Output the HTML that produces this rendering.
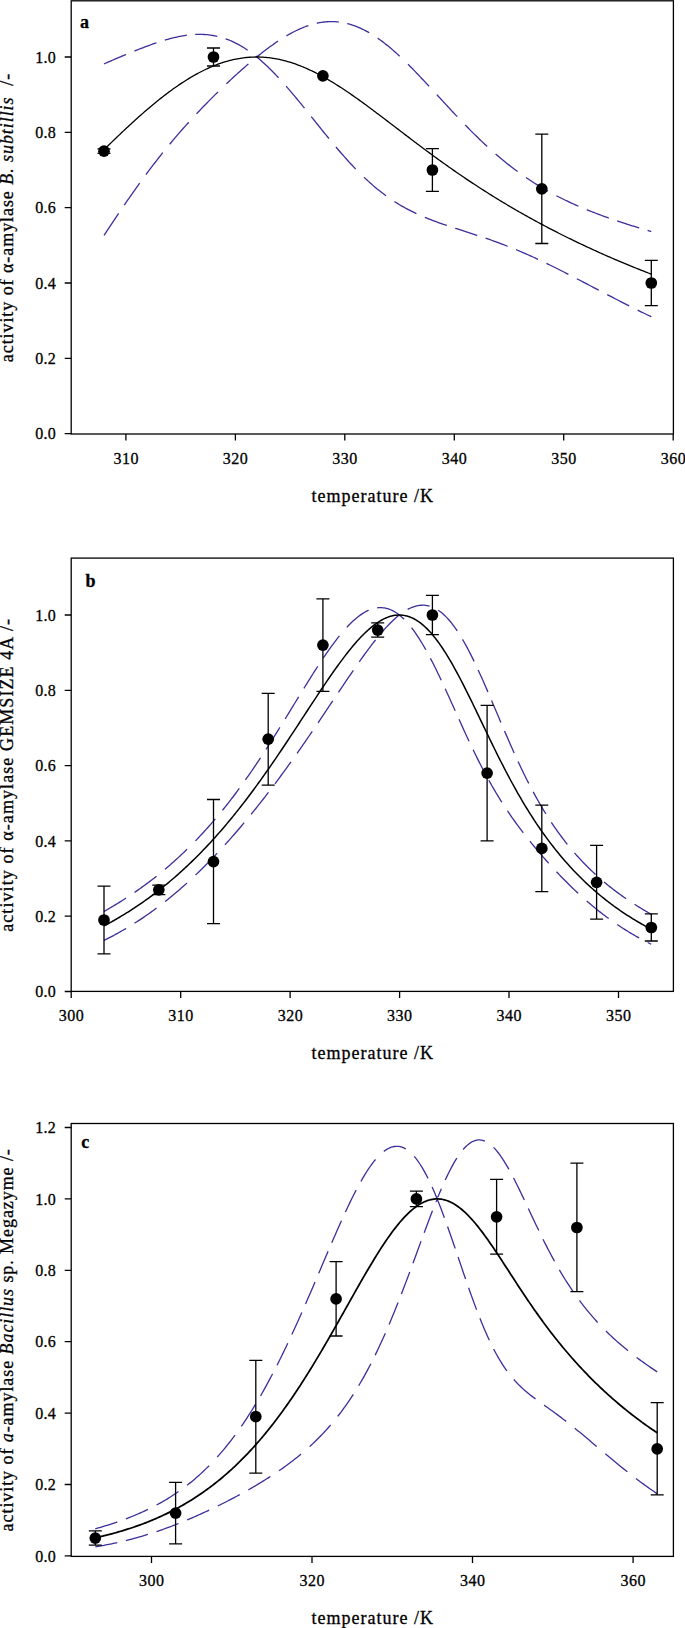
<!DOCTYPE html>
<html><head><meta charset="utf-8"><title>alpha-amylase activity vs temperature</title>
<style>
html,body{margin:0;padding:0;background:#fff}
svg{display:block}
text{font-family:"Liberation Serif",serif;fill:#000;stroke:#000;stroke-width:0.3px}
.tk{font-size:16px;letter-spacing:0.25px}
.lb{font-size:18px;letter-spacing:1px}
.lt{font-size:18px;font-weight:bold}
.ax{stroke:#000;stroke-width:1.3;fill:none}
.eb{stroke:#000;stroke-width:1.3;fill:none}
.bk{stroke:#000;stroke-width:1.35;fill:none}
.ds{stroke:#3b2f9b;stroke-width:1.3;fill:none}
.pt{fill:#000}
</style></head><body>
<svg width="685" height="1628" viewBox="0 0 685 1628">
<rect width="685" height="1628" fill="#fff"/>
<g>
<path class="ds" d="M104.03,63.92L105.48,63.28L106.98,62.62L108.48,61.97L109.98,61.31L111.48,60.66L112.98,60.01L114.48,59.37L115.98,58.72L117.48,58.08L118.98,57.45L120.48,56.81L121.98,56.18L123.48,55.55L124.98,54.92L126.03,54.48M134.44,51.05L135.93,50.45L137.43,49.86L138.93,49.27L140.43,48.68L141.93,48.10L143.43,47.53L144.93,46.96L146.43,46.39L147.93,45.84L149.43,45.29L150.93,44.75L152.43,44.21L153.93,43.69L155.43,43.17L156.44,42.83M164.83,40.15L166.33,39.71L167.83,39.29L169.33,38.87L170.83,38.47L172.33,38.09L173.83,37.72L175.33,37.36L176.83,37.02L178.33,36.70L179.83,36.40L181.33,36.11L182.83,35.85L184.33,35.60L185.83,35.37L186.83,35.23M195.23,34.45L196.73,34.39L198.23,34.36L199.73,34.35L201.23,34.36L202.73,34.41L204.23,34.48L205.73,34.58L207.23,34.70L208.73,34.86L210.23,35.05L211.73,35.27L213.23,35.51L214.73,35.79L216.23,36.10L217.23,36.33M225.63,38.78L227.13,39.32L228.63,39.90L230.13,40.52L231.63,41.17L233.13,41.85L234.63,42.56L236.13,43.31L237.63,44.10L239.13,44.92L240.63,45.77L242.13,46.65L243.63,47.57L245.13,48.53L246.63,49.51L247.63,50.19M256.03,56.44L257.53,56.34L259.03,55.13L260.53,53.94L262.03,52.76L263.53,51.59L265.03,50.44L266.53,49.31L268.03,48.18L269.53,47.08L271.03,45.99L272.53,44.92L274.03,43.86L275.53,42.82L277.03,41.80L278.03,41.13M286.43,35.86L287.93,34.99L289.43,34.14L290.93,33.32L292.43,32.52L293.93,31.74L295.43,30.98L296.93,30.26L298.43,29.56L299.93,28.88L301.43,28.23L302.93,27.61L304.43,27.02L305.93,26.45L307.43,25.92L308.43,25.58M316.83,23.25L318.33,22.94L319.83,22.66L321.33,22.41L322.83,22.20L324.33,22.01L325.83,21.87L327.33,21.76L328.83,21.68L330.33,21.63L331.83,21.62L333.33,21.65L334.83,21.71L336.33,21.81L337.83,21.94L338.83,22.04M347.24,23.57L348.73,23.96L350.23,24.39L351.73,24.85L353.23,25.34L354.73,25.87L356.23,26.44L357.73,27.04L359.23,27.67L360.73,28.34L362.23,29.04L363.73,29.78L365.23,30.55L366.73,31.35L368.23,32.19L369.23,32.76M377.63,38.12L379.13,39.18L380.63,40.26L382.13,41.38L383.63,42.52L385.13,43.68L386.63,44.87L388.13,46.09L389.63,47.33L391.13,48.59L392.63,49.88L394.13,51.19L395.63,52.52L397.13,53.88L398.63,55.25L399.63,56.18M408.03,64.27L409.53,65.76L411.03,67.28L412.53,68.80L414.03,70.34L415.53,71.88L417.03,73.44L418.53,75.01L420.03,76.59L421.53,78.18L423.03,79.77L424.53,81.37L426.03,82.98L427.53,84.59L429.03,86.21L429.08,86.26M436.82,94.66L438.28,96.25L439.78,97.88L441.28,99.52L442.78,101.15L444.28,102.77L445.78,104.40L447.28,106.02L448.78,107.64L450.28,109.26L451.78,110.87L453.28,112.47L454.78,114.07L456.28,115.66L457.23,116.66M465.28,125.06L466.73,126.55L468.23,128.08L469.73,129.60L471.23,131.11L472.73,132.61L474.23,134.09L475.73,135.57L477.23,137.04L478.73,138.49L480.23,139.93L481.73,141.36L483.23,142.78L484.73,144.18L486.23,145.57L487.19,146.45M495.59,153.96L497.08,155.25L498.58,156.53L500.08,157.80L501.58,159.06L503.08,160.30L504.58,161.53L506.08,162.74L507.58,163.94L509.08,165.12L510.58,166.30L512.08,167.45L513.58,168.60L515.08,169.73L516.58,170.84L517.59,171.58M525.99,177.52L527.48,178.54L528.98,179.54L530.48,180.53L531.98,181.51L533.48,182.48L534.98,183.43L536.48,184.37L537.98,185.29L539.48,186.21L540.98,187.11L542.48,188.00L543.98,188.88L545.48,189.75L546.98,190.60L547.99,191.17M556.39,195.71L557.88,196.48L559.38,197.25L560.88,198.01L562.38,198.75L563.88,199.49L565.38,200.22L566.88,200.94L568.38,201.65L569.88,202.35L571.38,203.04L572.88,203.73L574.38,204.40L575.88,205.07L577.38,205.73L578.39,206.17M586.79,209.70L588.28,210.31L589.78,210.91L591.28,211.50L592.78,212.09L594.28,212.68L595.78,213.25L597.28,213.82L598.78,214.39L600.28,214.95L601.78,215.50L603.28,216.05L604.78,216.60L606.28,217.14L607.78,217.67L608.79,218.03M617.19,220.92L618.68,221.42L620.18,221.92L621.68,222.41L623.18,222.90L624.68,223.39L626.18,223.87L627.68,224.35L629.18,224.83L630.68,225.30L632.18,225.77L633.68,226.24L635.18,226.71L636.68,227.17L638.18,227.62L639.19,227.93M647.59,230.43L649.08,230.87L650.58,231.30L651.28,231.50"/>
<path class="ds" d="M104.03,235.44L105.48,233.23L106.98,230.95L108.48,228.67L109.98,226.40L111.48,224.14L112.98,221.88L114.48,219.63L115.98,217.38L117.48,215.15L118.63,213.44M124.33,205.04L125.78,202.92L127.28,200.74L128.78,198.58L130.28,196.42L131.78,194.27L133.28,192.14L134.78,190.01L136.28,187.90L137.78,185.80L139.28,183.71L139.77,183.04M145.91,174.64L147.38,172.65L148.88,170.65L150.38,168.65L151.88,166.67L153.38,164.71L154.88,162.76L156.38,160.82L157.88,158.89L159.38,156.98L160.88,155.08L162.38,153.20L162.83,152.64M169.68,144.24L171.13,142.49L172.63,140.69L174.13,138.92L175.63,137.15L177.13,135.40L178.63,133.66L180.13,131.93L181.63,130.22L183.13,128.51L184.63,126.82L186.13,125.14L187.63,123.48L188.75,122.24M196.51,113.84L197.98,112.27L199.48,110.69L200.98,109.12L202.48,107.55L203.98,106.00L205.48,104.45L206.98,102.92L208.48,101.39L209.98,99.88L211.48,98.37L212.98,96.87L214.48,95.38L215.98,93.90L217.48,92.42L218.01,91.91M226.41,83.82L227.88,82.43L229.38,81.02L230.88,79.62L232.38,78.23L233.88,76.85L235.38,75.48L236.88,74.11L238.38,72.76L239.88,71.41L241.38,70.08L242.88,68.75L244.38,67.43L245.88,66.12L247.38,64.83L248.41,63.94M256.81,57.07L258.28,58.29L259.78,59.56L261.28,60.85L262.78,62.18L264.28,63.54L265.78,64.92L267.28,66.33L268.78,67.77L270.28,69.24L271.78,70.73L273.28,72.25L274.78,73.79L276.28,75.36L277.78,76.95L278.54,77.76M286.12,86.16L287.58,87.84L289.08,89.58L290.58,91.33L292.08,93.10L293.58,94.88L295.08,96.67L296.58,98.48L298.08,100.30L299.58,102.13L301.08,103.96L302.58,105.81L304.08,107.66L304.49,108.16M311.23,116.56L312.68,118.38L314.18,120.25L315.68,122.13L317.18,124.00L318.68,125.88L320.18,127.75L321.68,129.61L323.18,131.47L324.68,133.32L326.18,135.17L327.68,137.01L328.95,138.56M335.94,146.96L337.43,148.72L338.93,150.48L340.43,152.22L341.93,153.95L343.43,155.66L344.93,157.35L346.43,159.03L347.93,160.69L349.43,162.33L350.93,163.95L352.43,165.55L353.93,167.14L355.43,168.70L355.69,168.96M364.03,177.25L365.48,178.62L366.98,180.02L368.48,181.39L369.98,182.74L371.48,184.07L372.98,185.37L374.48,186.65L375.98,187.91L377.48,189.15L378.98,190.36L380.48,191.55L381.98,192.71L383.48,193.85L384.98,194.97L386.03,195.74M394.43,201.50L395.88,202.43L397.38,203.37L398.88,204.29L400.38,205.19L401.88,206.07L403.38,206.92L404.88,207.76L406.38,208.58L407.88,209.39L409.38,210.17L410.88,210.94L412.38,211.69L413.88,212.42L415.38,213.14L416.43,213.63M424.83,217.34L426.28,217.94L427.78,218.55L429.28,219.15L430.78,219.73L432.28,220.31L433.78,220.88L435.28,221.43L436.78,221.98L438.28,222.53L439.78,223.06L441.28,223.59L442.78,224.11L444.28,224.63L445.78,225.14L446.83,225.49M455.23,228.26L456.68,228.73L458.18,229.21L459.68,229.69L461.18,230.18L462.68,230.66L464.18,231.14L465.68,231.62L467.18,232.10L468.68,232.58L470.18,233.07L471.68,233.55L473.18,234.04L474.68,234.53L476.18,235.02L477.23,235.36M485.63,238.18L487.08,238.69L488.58,239.21L490.08,239.73L491.58,240.26L493.08,240.79L494.58,241.33L496.08,241.88L497.58,242.43L499.08,242.98L500.58,243.54L502.08,244.11L503.58,244.68L505.08,245.25L506.58,245.83L507.63,246.24M516.03,249.63L517.48,250.24L518.98,250.86L520.48,251.50L521.98,252.14L523.48,252.79L524.98,253.44L526.48,254.10L527.98,254.76L529.48,255.43L530.98,256.10L532.48,256.78L533.98,257.47L535.48,258.16L536.98,258.85L538.03,259.34M546.43,263.34L547.88,264.04L549.38,264.78L550.88,265.51L552.38,266.25L553.88,266.99L555.38,267.74L556.88,268.49L558.38,269.24L559.88,270.00L561.38,270.76L562.88,271.52L564.38,272.29L565.88,273.05L567.38,273.82L568.43,274.36M576.83,278.71L578.28,279.47L579.78,280.25L581.28,281.03L582.78,281.82L584.28,282.60L585.78,283.39L587.28,284.17L588.78,284.96L590.28,285.75L591.78,286.53L593.28,287.32L594.78,288.11L596.28,288.89L597.78,289.68L598.83,290.22M607.23,294.61L608.68,295.37L610.18,296.15L611.68,296.92L613.18,297.70L614.68,298.47L616.18,299.25L617.68,300.02L619.18,300.79L620.68,301.56L622.18,302.32L623.68,303.09L625.18,303.85L626.68,304.61L628.18,305.37L629.23,305.90M637.63,310.10L639.08,310.82L640.58,311.56L642.08,312.30L643.58,313.03L645.08,313.77L646.58,314.50L648.08,315.23L649.58,315.95L651.08,316.67L651.28,316.77"/>
<path class="bk" style="stroke-width:1.3" d="M104.03,149.68L105.53,148.21L107.03,146.74L108.53,145.27L110.03,143.81L111.53,142.35L113.03,140.90L114.53,139.45L116.03,138.01L117.53,136.57L119.03,135.14L120.53,133.71L122.03,132.29L123.53,130.88L125.03,129.47L126.52,128.06L128.02,126.67L129.52,125.28L131.02,123.90L132.52,122.52L134.02,121.16L135.52,119.80L137.02,118.45L138.52,117.10L140.02,115.77L141.52,114.44L143.02,113.13L144.52,111.82L146.02,110.52L147.52,109.24L149.01,107.96L150.51,106.69L152.01,105.43L153.51,104.19L155.01,102.95L156.51,101.73L158.01,100.52L159.51,99.32L161.01,98.13L162.51,96.95L164.01,95.79L165.51,94.64L167.01,93.50L168.51,92.38L170.00,91.27L171.50,90.17L173.00,89.09L174.50,88.02L176.00,86.96L177.50,85.93L179.00,84.90L180.50,83.89L182.00,82.90L183.50,81.92L185.00,80.96L186.50,80.01L188.00,79.08L189.50,78.17L191.00,77.27L192.49,76.39L193.99,75.53L195.49,74.68L196.99,73.85L198.49,73.04L199.99,72.25L201.49,71.48L202.99,70.72L204.49,69.99L205.99,69.27L207.49,68.57L208.99,67.89L210.49,67.23L211.99,66.59L213.48,65.96L214.98,65.36L216.48,64.78L217.98,64.22L219.48,63.68L220.98,63.16L222.48,62.65L223.98,62.17L225.48,61.71L226.98,61.28L228.48,60.86L229.98,60.46L231.48,60.09L232.98,59.73L234.48,59.40L235.97,59.09L237.47,58.80L238.97,58.53L240.47,58.28L241.97,58.06L243.47,57.85L244.97,57.67L246.47,57.51L247.97,57.37L249.47,57.26L250.97,57.16L252.47,57.09L253.97,57.04L255.47,57.01L256.97,57.00L258.46,57.01L259.96,57.05L261.46,57.11L262.96,57.19L264.46,57.29L265.96,57.41L267.46,57.56L268.96,57.72L270.46,57.91L271.96,58.12L273.46,58.35L274.96,58.60L276.46,58.87L277.96,59.16L279.45,59.47L280.95,59.80L282.45,60.16L283.95,60.53L285.45,60.92L286.95,61.34L288.45,61.77L289.95,62.22L291.45,62.69L292.95,63.18L294.45,63.69L295.95,64.22L297.45,64.77L298.95,65.33L300.45,65.92L301.94,66.52L303.44,67.14L304.94,67.77L306.44,68.43L307.94,69.10L309.44,69.79L310.94,70.49L312.44,71.21L313.94,71.94L315.44,72.69L316.94,73.46L318.44,74.24L319.94,75.04L321.44,75.85L322.93,76.67L324.43,77.51L325.93,78.36L327.43,79.23L328.93,80.10L330.43,80.99L331.93,81.90L333.43,82.81L334.93,83.74L336.43,84.68L337.93,85.62L339.43,86.58L340.93,87.55L342.43,88.53L343.93,89.52L345.42,90.52L346.92,91.53L348.42,92.55L349.92,93.58L351.42,94.61L352.92,95.65L354.42,96.70L355.92,97.76L357.42,98.82L358.92,99.89L360.42,100.97L361.92,102.05L363.42,103.14L364.92,104.24L366.42,105.33L367.91,106.44L369.41,107.55L370.91,108.66L372.41,109.78L373.91,110.90L375.41,112.02L376.91,113.15L378.41,114.28L379.91,115.41L381.41,116.55L382.91,117.69L384.41,118.83L385.91,119.97L387.41,121.11L388.90,122.26L390.40,123.40L391.90,124.55L393.40,125.69L394.90,126.84L396.40,127.99L397.90,129.13L399.40,130.28L400.90,131.42L402.40,132.57L403.90,133.71L405.40,134.86L406.90,136.00L408.40,137.14L409.90,138.28L411.39,139.42L412.89,140.55L414.39,141.69L415.89,142.82L417.39,143.95L418.89,145.08L420.39,146.20L421.89,147.32L423.39,148.44L424.89,149.56L426.39,150.67L427.89,151.78L429.39,152.89L430.89,153.99L432.38,155.09L433.88,156.19L435.38,157.28L436.88,158.37L438.38,159.46L439.88,160.54L441.38,161.62L442.88,162.70L444.38,163.77L445.88,164.84L447.38,165.90L448.88,166.96L450.38,168.01L451.88,169.06L453.38,170.11L454.87,171.15L456.37,172.19L457.87,173.23L459.37,174.26L460.87,175.28L462.37,176.31L463.87,177.32L465.37,178.34L466.87,179.35L468.37,180.35L469.87,181.35L471.37,182.35L472.87,183.34L474.37,184.32L475.87,185.31L477.36,186.28L478.86,187.26L480.36,188.23L481.86,189.19L483.36,190.15L484.86,191.11L486.36,192.06L487.86,193.01L489.36,193.95L490.86,194.89L492.36,195.83L493.86,196.76L495.36,197.68L496.86,198.61L498.35,199.52L499.85,200.44L501.35,201.35L502.85,202.25L504.35,203.15L505.85,204.05L507.35,204.94L508.85,205.83L510.35,206.72L511.85,207.60L513.35,208.47L514.85,209.35L516.35,210.21L517.85,211.08L519.35,211.94L520.84,212.79L522.34,213.65L523.84,214.50L525.34,215.34L526.84,216.18L528.34,217.02L529.84,217.85L531.34,218.68L532.84,219.50L534.34,220.32L535.84,221.14L537.34,221.96L538.84,222.77L540.34,223.57L541.83,224.37L543.33,225.17L544.83,225.97L546.33,226.76L547.83,227.55L549.33,228.33L550.83,229.11L552.33,229.89L553.83,230.66L555.33,231.43L556.83,232.20L558.33,232.96L559.83,233.72L561.33,234.48L562.83,235.23L564.32,235.98L565.82,236.73L567.32,237.47L568.82,238.21L570.32,238.94L571.82,239.68L573.32,240.41L574.82,241.13L576.32,241.85L577.82,242.57L579.32,243.29L580.82,244.00L582.32,244.71L583.82,245.42L585.32,246.12L586.81,246.82L588.31,247.52L589.81,248.21L591.31,248.90L592.81,249.59L594.31,250.27L595.81,250.95L597.31,251.63L598.81,252.31L600.31,252.98L601.81,253.65L603.31,254.31L604.81,254.98L606.31,255.64L607.80,256.29L609.30,256.95L610.80,257.60L612.30,258.25L613.80,258.89L615.30,259.54L616.80,260.18L618.30,260.81L619.80,261.45L621.30,262.08L622.80,262.71L624.30,263.33L625.80,263.96L627.30,264.58L628.80,265.19L630.29,265.81L631.79,266.42L633.29,267.03L634.79,267.64L636.29,268.24L637.79,268.84L639.29,269.44L640.79,270.04L642.29,270.63L643.79,271.22L645.29,271.81L646.79,272.39L648.29,272.98L649.79,273.56L651.28,274.14"/>
<path class="eb" d="M104.0,148.9V153.4M97.5,148.9h13M97.5,153.4h13M213.5,48.0V66.0M207.0,48.0h13M207.0,66.0h13M432.4,148.7V191.3M425.9,148.7h13M425.9,191.3h13M541.8,134.2V243.5M535.3,134.2h13M535.3,243.5h13M651.3,260.4V305.6M644.8,260.4h13M644.8,305.6h13"/>
<circle class="pt" cx="104.0" cy="151.2" r="5.85"/>
<circle class="pt" cx="213.5" cy="57.0" r="5.85"/>
<circle class="pt" cx="322.9" cy="75.8" r="5.85"/>
<circle class="pt" cx="432.4" cy="170.0" r="5.85"/>
<circle class="pt" cx="541.8" cy="188.8" r="5.85"/>
<circle class="pt" cx="651.3" cy="283.0" r="5.85"/>
<rect class="ax" x="71.2" y="0.8" width="602.2" height="433.2"/>
<path class="ax" d="M125.9,434.0v6.5M235.4,434.0v6.5M344.8,434.0v6.5M454.3,434.0v6.5M563.7,434.0v6.5M673.2,434.0v6.5M71.2,433.7h-6.5M71.2,358.4h-6.5M71.2,283.0h-6.5M71.2,207.7h-6.5M71.2,132.3h-6.5M71.2,57.0h-6.5"/>
<text class="tk" style="letter-spacing:0.5px" x="126.2" y="463.6" text-anchor="middle">310</text>
<text class="tk" style="letter-spacing:0.5px" x="235.6" y="463.6" text-anchor="middle">320</text>
<text class="tk" style="letter-spacing:0.5px" x="345.1" y="463.6" text-anchor="middle">330</text>
<text class="tk" style="letter-spacing:0.5px" x="454.5" y="463.6" text-anchor="middle">340</text>
<text class="tk" style="letter-spacing:0.5px" x="564.0" y="463.6" text-anchor="middle">350</text>
<text class="tk" style="letter-spacing:0.5px" x="673.4" y="463.6" text-anchor="middle">360</text>
<text class="tk" x="56.1" y="439.4" text-anchor="end">0.0</text>
<text class="tk" x="56.1" y="364.1" text-anchor="end">0.2</text>
<text class="tk" x="56.1" y="288.7" text-anchor="end">0.4</text>
<text class="tk" x="56.1" y="213.4" text-anchor="end">0.6</text>
<text class="tk" x="56.1" y="138.0" text-anchor="end">0.8</text>
<text class="tk" x="56.1" y="62.7" text-anchor="end">1.0</text>
<text class="lb" x="372.8" y="501.5" text-anchor="middle">temperature /K</text>
<text class="lt" x="80.1" y="27.6">a</text>
<text class="lb" style="letter-spacing:0.935px" transform="translate(13.3,217.5) rotate(-90)" text-anchor="middle" xml:space="preserve">activity of α-amylase <tspan font-style="italic">B. subtillis</tspan>  /-</text>
</g>
<g>
<path class="ds" d="M104.03,911.41L105.48,910.59L106.98,909.73L108.48,908.87L109.98,908.00L111.48,907.11L112.98,906.22L114.48,905.33L115.98,904.42L117.48,903.50L118.98,902.58L120.48,901.64L121.98,900.70L123.48,899.74L124.98,898.78L126.03,898.10M134.53,892.43L136.03,891.39L137.53,890.35L139.03,889.29L140.53,888.23L142.03,887.15L143.53,886.06L145.03,884.97L146.53,883.86L148.03,882.74L149.53,881.61L151.03,880.46L152.53,879.31L154.03,878.14L155.53,876.97L156.53,876.18M165.03,869.23L166.53,867.97L168.03,866.69L169.53,865.39L171.03,864.09L172.53,862.77L174.03,861.44L175.53,860.09L177.03,858.73L178.53,857.36L180.03,855.97L181.53,854.57L183.03,853.15L184.53,851.72L186.03,850.28L187.03,849.31M195.46,840.85L196.93,839.33L198.43,837.75L199.93,836.17L201.43,834.56L202.93,832.94L204.43,831.31L205.93,829.66L207.43,827.99L208.93,826.30L210.43,824.60L211.93,822.88L213.43,821.14L214.93,819.39L215.39,818.85M222.44,810.35L223.93,808.50L225.43,806.62L226.93,804.73L228.43,802.82L229.93,800.89L231.43,798.94L232.93,796.98L234.43,795.00L235.93,793.00L237.43,790.98L238.93,788.95L239.37,788.35M245.49,779.85L246.98,777.73L248.48,775.59L249.98,773.43L251.48,771.25L252.98,769.06L254.48,766.86L255.98,764.63L257.48,762.40L258.98,760.14L260.48,757.88L260.50,757.85M266.04,749.35L267.53,747.04L269.03,744.69L270.53,742.34L272.03,739.97L273.53,737.60L275.03,735.21L276.53,732.82L278.03,730.41L279.53,728.00L279.93,727.35M285.18,718.85L286.63,716.49L288.13,714.04L289.63,711.59L291.13,709.14L292.63,706.69L294.13,704.23L295.63,701.78L297.13,699.33L298.63,696.88L298.65,696.85M303.88,688.35L305.33,686.00L306.83,683.58L308.33,681.17L309.83,678.78L311.33,676.39L312.83,674.02L314.33,671.67L315.83,669.33L317.33,667.01L317.76,666.35M323.39,657.85L324.88,655.65L326.38,653.47L327.88,651.31L329.38,649.19L330.88,647.10L332.38,645.04L333.88,643.02L335.38,641.03L336.88,639.09L338.38,637.18L339.45,635.85M346.77,627.35L348.23,625.80L349.73,624.25L351.23,622.77L352.73,621.34L354.23,619.98L355.73,618.67L357.23,617.43L358.73,616.26L360.23,615.15L361.73,614.11L363.23,613.14L364.73,612.24L366.23,611.42L367.73,610.68L368.63,610.27M377.13,607.84L378.58,607.69L380.08,607.63L381.58,607.66L383.08,607.78L384.58,607.98L386.08,608.28L387.58,608.68L389.08,609.16L390.58,609.74L392.08,610.42L393.58,611.19L395.08,612.05L396.58,613.01L398.08,614.07L399.13,614.86M407.63,609.44L409.08,608.68L410.58,607.97L412.08,607.34L413.58,606.78L415.08,606.31L416.58,605.91L418.08,605.60L419.58,605.37L421.08,605.23L422.58,605.18L424.08,605.22L425.58,605.35L427.08,605.57L428.58,605.89L429.63,606.17M438.13,610.18L439.58,611.19L441.08,612.33L442.58,613.57L444.08,614.91L445.58,616.35L447.08,617.89L448.58,619.54L450.08,621.28L451.58,623.12L453.08,625.05L454.58,627.08L456.08,629.21L457.23,630.90M462.54,639.40L464.03,641.98L465.53,644.65L467.03,647.40L468.53,650.23L470.03,653.13L471.53,656.09L473.03,659.13L474.14,661.40M478.15,669.90L479.63,673.15L481.13,676.47L482.63,679.83L484.13,683.23L485.63,686.66L487.13,690.12L487.90,691.90M491.54,700.40L493.03,703.92L494.53,707.46L496.03,711.01L497.53,714.55L499.03,718.10L500.53,721.64L500.86,722.40M504.49,730.90L505.98,734.38L507.48,737.85L508.98,741.29L510.48,744.71L511.98,748.09L513.48,751.45L514.14,752.90M518.03,761.40L519.48,764.52L520.98,767.69L522.48,770.82L523.98,773.91L525.48,776.95L526.98,779.95L528.48,782.91L528.74,783.40M533.20,791.90L534.68,794.64L536.18,797.37L537.68,800.04L539.18,802.67L540.68,805.26L542.18,807.80L543.68,810.30L545.18,812.75L545.89,813.90M551.35,822.40L552.83,824.61L554.33,826.81L555.83,828.97L557.33,831.10L558.83,833.18L560.33,835.23L561.83,837.25L563.33,839.22L564.83,841.17L566.33,843.07L567.39,844.40M574.50,852.90L575.98,854.59L577.48,856.27L578.98,857.93L580.48,859.55L581.98,861.15L583.48,862.72L584.98,864.27L586.48,865.79L587.98,867.29L589.48,868.76L590.98,870.21L592.48,871.64L593.98,873.05L595.48,874.43L595.59,874.53M604.09,881.99L605.58,883.23L607.08,884.47L608.58,885.68L610.08,886.88L611.58,888.07L613.08,889.23L614.58,890.38L616.08,891.51L617.58,892.63L619.08,893.74L620.58,894.82L622.08,895.90L623.58,896.96L625.08,898.00L626.09,898.70M634.59,904.31L636.08,905.26L637.58,906.20L639.08,907.12L640.58,908.04L642.08,908.94L643.58,909.83L645.08,910.71L646.58,911.58L648.08,912.44L649.58,913.29L651.08,914.12L651.28,914.23"/>
<path class="ds" d="M104.03,940.41L105.48,939.68L106.98,938.93L108.48,938.16L109.98,937.38L111.48,936.59L112.98,935.80L114.48,934.99L115.98,934.18L117.48,933.35L118.98,932.52L120.48,931.67L121.98,930.81L123.48,929.95L124.98,929.07L126.03,928.45M134.53,923.24L136.03,922.29L137.53,921.32L139.03,920.34L140.53,919.36L142.03,918.36L143.53,917.35L145.03,916.33L146.53,915.29L148.03,914.25L149.53,913.19L151.03,912.13L152.53,911.05L154.03,909.96L155.53,908.85L156.53,908.11M165.03,901.60L166.53,900.41L168.03,899.21L169.53,898.00L171.03,896.77L172.53,895.54L174.03,894.29L175.53,893.03L177.03,891.75L178.53,890.47L180.03,889.17L181.53,887.86L183.03,886.54L184.53,885.21L186.03,883.86L187.03,882.96M195.53,875.06L197.03,873.63L198.53,872.18L200.03,870.73L201.53,869.26L203.03,867.78L204.53,866.28L206.03,864.78L207.53,863.26L209.03,861.73L210.53,860.19L212.03,858.64L213.53,857.08L215.03,855.51L216.53,853.92L217.14,853.28M224.98,844.78L226.43,843.17L227.93,841.50L229.43,839.82L230.93,838.13L232.43,836.42L233.93,834.71L235.43,832.98L236.93,831.25L238.43,829.50L239.93,827.74L241.43,825.98L242.93,824.20L244.12,822.78M251.14,814.28L252.63,812.44L254.13,810.59L255.63,808.72L257.13,806.84L258.63,804.96L260.13,803.06L261.63,801.15L263.13,799.24L264.63,797.31L266.13,795.37L267.63,793.43L268.51,792.28M274.96,783.78L276.43,781.81L277.93,779.79L279.43,777.77L280.93,775.74L282.43,773.70L283.93,771.65L285.43,769.59L286.93,767.52L288.43,765.44L289.93,763.35L291.06,761.78M297.09,753.28L298.58,751.15L300.08,749.01L301.58,746.86L303.08,744.70L304.58,742.53L306.08,740.36L307.58,738.18L309.08,736.00L310.58,733.80L312.08,731.60L312.30,731.28M318.07,722.78L319.53,720.60L321.03,718.38L322.53,716.14L324.03,713.91L325.53,711.67L327.03,709.43L328.53,707.19L330.03,704.94L331.53,702.70L332.81,700.78M338.49,692.28L339.98,690.05L341.48,687.82L342.98,685.58L344.48,683.36L345.98,681.13L347.48,678.92L348.98,676.71L350.48,674.51L351.98,672.31L353.38,670.28M359.30,661.78L360.78,659.68L362.28,657.58L363.78,655.50L365.28,653.43L366.78,651.38L368.28,649.36L369.78,647.36L371.28,645.38L372.78,643.43L374.28,641.50L375.65,639.78M382.71,631.28L384.18,629.61L385.68,627.94L387.18,626.32L388.68,624.75L390.18,623.22L391.68,621.73L393.18,620.30L394.68,618.92L396.18,617.59L397.68,616.32L399.18,615.10L400.68,616.12L402.18,617.43L403.68,618.84L404.12,619.26M411.58,627.76L413.03,629.68L414.53,631.74L416.03,633.88L417.53,636.10L419.03,638.41L420.53,640.79L422.03,643.25L423.53,645.78L425.03,648.39L425.81,649.76M430.41,658.26L431.88,661.10L433.38,664.04L434.88,667.04L436.38,670.08L437.88,673.17L439.38,676.30L440.88,679.46L441.26,680.26M445.21,688.76L446.68,691.99L448.18,695.28L449.68,698.59L451.18,701.91L452.68,705.24L454.18,708.58L455.17,710.76M458.99,719.26L460.48,722.56L461.98,725.86L463.48,729.15L464.98,732.43L466.48,735.68L467.98,738.90L469.09,741.26M473.13,749.76L474.58,752.76L476.08,755.83L477.58,758.85L479.08,761.84L480.58,764.79L482.08,767.70L483.58,770.57L484.21,771.76M488.81,780.26L490.28,782.89L491.78,785.54L493.28,788.14L494.78,790.70L496.28,793.23L497.78,795.71L499.28,798.15L500.78,800.56L501.86,802.26M507.41,810.76L508.88,812.94L510.38,815.12L511.88,817.28L513.38,819.40L514.88,821.50L516.38,823.57L517.88,825.62L519.38,827.64L520.88,829.64L522.38,831.61L523.26,832.76M529.96,841.26L531.43,843.09L532.93,844.92L534.43,846.74L535.93,848.55L537.43,850.33L538.93,852.10L540.43,853.86L541.93,855.60L543.43,857.33L544.93,859.04L546.43,860.73L547.93,862.42L548.69,863.26M556.51,871.76L557.98,873.32L559.48,874.90L560.98,876.46L562.48,878.01L563.98,879.54L565.48,881.05L566.98,882.56L568.48,884.05L569.98,885.52L571.48,886.98L572.98,888.43L574.48,889.86L575.98,891.28L577.48,892.68L578.19,893.33M586.69,900.97L588.18,902.26L589.68,903.55L591.18,904.82L592.68,906.07L594.18,907.31L595.68,908.54L597.18,909.75L598.68,910.94L600.18,912.12L601.68,913.29L603.18,914.44L604.68,915.58L606.18,916.70L607.68,917.81L608.69,918.54M617.19,924.51L618.68,925.52L620.18,926.51L621.68,927.49L623.18,928.46L624.68,929.41L626.18,930.35L627.68,931.28L629.18,932.20L630.68,933.10L632.18,933.99L633.68,934.87L635.18,935.73L636.68,936.58L638.18,937.42L639.19,937.98M647.69,942.48L649.18,943.23L650.68,943.98L651.28,944.27"/>
<path class="bk" style="stroke-width:1.5" d="M104.03,925.91L105.53,925.11L107.03,924.30L108.53,923.49L110.03,922.66L111.53,921.83L113.03,920.99L114.53,920.13L116.03,919.27L117.53,918.40L119.03,917.52L120.53,916.63L122.03,915.73L123.53,914.82L125.03,913.90L126.52,912.97L128.02,912.03L129.52,911.08L131.02,910.12L132.52,909.15L134.02,908.17L135.52,907.18L137.02,906.18L138.52,905.17L140.02,904.15L141.52,903.11L143.02,902.07L144.52,901.01L146.02,899.95L147.52,898.87L149.01,897.78L150.51,896.68L152.01,895.57L153.51,894.44L155.01,893.31L156.51,892.16L158.01,891.00L159.51,889.83L161.01,888.65L162.51,887.46L164.01,886.25L165.51,885.03L167.01,883.80L168.51,882.56L170.00,881.30L171.50,880.03L173.00,878.75L174.50,877.46L176.00,876.15L177.50,874.83L179.00,873.50L180.50,872.15L182.00,870.79L183.50,869.42L185.00,868.04L186.50,866.64L188.00,865.23L189.50,863.80L191.00,862.36L192.49,860.91L193.99,859.44L195.49,857.96L196.99,856.47L198.49,854.96L199.99,853.44L201.49,851.90L202.99,850.35L204.49,848.79L205.99,847.21L207.49,845.62L208.99,844.01L210.49,842.39L211.99,840.76L213.48,839.11L214.98,837.45L216.48,835.77L217.98,834.08L219.48,832.37L220.98,830.65L222.48,828.91L223.98,827.16L225.48,825.40L226.98,823.62L228.48,821.83L229.98,820.02L231.48,818.20L232.98,816.37L234.48,814.52L235.97,812.65L237.47,810.77L238.97,808.88L240.47,806.98L241.97,805.06L243.47,803.12L244.97,801.18L246.47,799.21L247.97,797.24L249.47,795.25L250.97,793.25L252.47,791.24L253.97,789.21L255.47,787.17L256.97,785.12L258.46,783.05L259.96,780.97L261.46,778.88L262.96,776.78L264.46,774.66L265.96,772.54L267.46,770.40L268.96,768.25L270.46,766.10L271.96,763.93L273.46,761.75L274.96,759.56L276.46,757.36L277.96,755.15L279.45,752.94L280.95,750.71L282.45,748.48L283.95,746.24L285.45,743.99L286.95,741.73L288.45,739.47L289.95,737.20L291.45,734.93L292.95,732.65L294.45,730.37L295.95,728.09L297.45,725.80L298.95,723.50L300.45,721.21L301.94,718.92L303.44,716.62L304.94,714.32L306.44,712.03L307.94,709.73L309.44,707.44L310.94,705.15L312.44,702.87L313.94,700.58L315.44,698.31L316.94,696.04L318.44,693.78L319.94,691.52L321.44,689.27L322.93,687.04L324.43,684.81L325.93,682.60L327.43,680.40L328.93,678.21L330.43,676.04L331.93,673.88L333.43,671.74L334.93,669.62L336.43,667.52L337.93,665.44L339.43,663.38L340.93,661.35L342.43,659.34L343.93,657.35L345.42,655.39L346.92,653.47L348.42,651.57L349.92,649.70L351.42,647.86L352.92,646.06L354.42,644.29L355.92,642.56L357.42,640.87L358.92,639.22L360.42,637.61L361.92,636.04L363.42,634.52L364.92,633.04L366.42,631.61L367.91,630.23L369.41,628.89L370.91,627.61L372.41,626.39L373.91,625.21L375.41,624.10L376.91,623.04L378.41,622.04L379.91,621.10L381.41,620.22L382.91,619.41L384.41,618.66L385.91,617.97L387.41,617.36L388.90,616.81L390.40,616.33L391.90,615.93L393.40,615.59L394.90,615.33L396.40,615.14L397.90,615.03L399.40,615.00L400.90,615.04L402.40,615.16L403.90,615.37L405.40,615.65L406.90,616.01L408.40,616.45L409.90,616.97L411.39,617.57L412.89,618.26L414.39,619.03L415.89,619.88L417.39,620.81L418.89,621.83L420.39,622.92L421.89,624.10L423.39,625.36L424.89,626.70L426.39,628.12L427.89,629.62L429.39,631.20L430.89,632.86L432.38,634.60L433.88,636.41L435.38,638.29L436.88,640.25L438.38,642.28L439.88,644.37L441.38,646.54L442.88,648.78L444.38,651.07L445.88,653.43L447.38,655.86L448.88,658.34L450.38,660.87L451.88,663.46L453.38,666.11L454.87,668.80L456.37,671.54L457.87,674.32L459.37,677.15L460.87,680.01L462.37,682.91L463.87,685.84L465.37,688.81L466.87,691.80L468.37,694.82L469.87,697.86L471.37,700.92L472.87,704.00L474.37,707.09L475.87,710.20L477.36,713.31L478.86,716.43L480.36,719.56L481.86,722.68L483.36,725.81L484.86,728.93L486.36,732.05L487.86,735.16L489.36,738.26L490.86,741.35L492.36,744.43L493.86,747.49L495.36,750.54L496.86,753.56L498.35,756.57L499.85,759.55L501.35,762.51L502.85,765.45L504.35,768.36L505.85,771.25L507.35,774.10L508.85,776.93L510.35,779.74L511.85,782.51L513.35,785.25L514.85,787.96L516.35,790.64L517.85,793.29L519.35,795.90L520.84,798.49L522.34,801.04L523.84,803.56L525.34,806.05L526.84,808.51L528.34,810.93L529.84,813.33L531.34,815.69L532.84,818.02L534.34,820.32L535.84,822.58L537.34,824.82L538.84,827.03L540.34,829.20L541.83,831.35L543.33,833.47L544.83,835.55L546.33,837.61L547.83,839.64L549.33,841.64L550.83,843.62L552.33,845.56L553.83,847.48L555.33,849.38L556.83,851.24L558.33,853.08L559.83,854.90L561.33,856.69L562.83,858.45L564.32,860.20L565.82,861.91L567.32,863.60L568.82,865.27L570.32,866.92L571.82,868.54L573.32,870.15L574.82,871.72L576.32,873.28L577.82,874.82L579.32,876.33L580.82,877.83L582.32,879.30L583.82,880.75L585.32,882.19L586.81,883.60L588.31,884.99L589.81,886.37L591.31,887.73L592.81,889.06L594.31,890.38L595.81,891.68L597.31,892.97L598.81,894.23L600.31,895.48L601.81,896.71L603.31,897.93L604.81,899.13L606.31,900.31L607.80,901.48L609.30,902.63L610.80,903.76L612.30,904.88L613.80,905.99L615.30,907.08L616.80,908.15L618.30,909.21L619.80,910.26L621.30,911.29L622.80,912.31L624.30,913.31L625.80,914.30L627.30,915.28L628.80,916.24L630.29,917.19L631.79,918.13L633.29,919.06L634.79,919.97L636.29,920.87L637.79,921.76L639.29,922.64L640.79,923.51L642.29,924.36L643.79,925.20L645.29,926.04L646.79,926.86L648.29,927.67L649.79,928.47L651.28,929.25"/>
<path class="eb" d="M104.0,886.1V953.9M97.5,886.1h13M97.5,953.9h13M158.8,885.1V894.6M152.3,885.1h13M152.3,894.6h13M213.5,799.5V923.7M207.0,799.5h13M207.0,923.7h13M268.2,693.3V785.2M261.7,693.3h13M261.7,785.2h13M322.9,598.8V691.4M316.4,598.8h13M316.4,691.4h13M377.7,622.9V637.2M371.2,622.9h13M371.2,637.2h13M432.4,595.4V634.6M425.9,595.4h13M425.9,634.6h13M487.1,705.4V840.9M480.6,705.4h13M480.6,840.9h13M541.8,805.1V891.7M535.3,805.1h13M535.3,891.7h13M596.6,845.4V919.2M590.1,845.4h13M590.1,919.2h13M651.3,913.9V941.0M644.8,913.9h13M644.8,941.0h13"/>
<circle class="pt" cx="104.0" cy="920.0" r="5.85"/>
<circle class="pt" cx="158.8" cy="889.8" r="5.85"/>
<circle class="pt" cx="213.5" cy="861.6" r="5.85"/>
<circle class="pt" cx="268.2" cy="739.2" r="5.85"/>
<circle class="pt" cx="322.9" cy="645.1" r="5.85"/>
<circle class="pt" cx="377.7" cy="630.1" r="5.85"/>
<circle class="pt" cx="432.4" cy="615.0" r="5.85"/>
<circle class="pt" cx="487.1" cy="773.1" r="5.85"/>
<circle class="pt" cx="541.8" cy="848.4" r="5.85"/>
<circle class="pt" cx="596.6" cy="882.3" r="5.85"/>
<circle class="pt" cx="651.3" cy="927.5" r="5.85"/>
<rect class="ax" x="71.2" y="558.1" width="602.2" height="433.3"/>
<path class="ax" d="M71.2,991.4v6.5M180.7,991.4v6.5M290.1,991.4v6.5M399.6,991.4v6.5M509.0,991.4v6.5M618.5,991.4v6.5M71.2,991.5h-6.5M71.2,916.2h-6.5M71.2,840.9h-6.5M71.2,765.6h-6.5M71.2,690.3h-6.5M71.2,615.0h-6.5"/>
<text class="tk" style="letter-spacing:0.5px" x="71.5" y="1021.0" text-anchor="middle">300</text>
<text class="tk" style="letter-spacing:0.5px" x="180.9" y="1021.0" text-anchor="middle">310</text>
<text class="tk" style="letter-spacing:0.5px" x="290.4" y="1021.0" text-anchor="middle">320</text>
<text class="tk" style="letter-spacing:0.5px" x="399.8" y="1021.0" text-anchor="middle">330</text>
<text class="tk" style="letter-spacing:0.5px" x="509.2" y="1021.0" text-anchor="middle">340</text>
<text class="tk" style="letter-spacing:0.5px" x="618.7" y="1021.0" text-anchor="middle">350</text>
<text class="tk" x="56.1" y="997.2" text-anchor="end">0.0</text>
<text class="tk" x="56.1" y="921.9" text-anchor="end">0.2</text>
<text class="tk" x="56.1" y="846.6" text-anchor="end">0.4</text>
<text class="tk" x="56.1" y="771.3" text-anchor="end">0.6</text>
<text class="tk" x="56.1" y="696.0" text-anchor="end">0.8</text>
<text class="tk" x="56.1" y="620.7" text-anchor="end">1.0</text>
<text class="lb" x="372.8" y="1058.9" text-anchor="middle">temperature /K</text>
<text class="lt" x="85.4" y="586.9">b</text>
<text class="lb" style="letter-spacing:1.09px" transform="translate(13.3,774.8) rotate(-90)" text-anchor="middle" xml:space="preserve">activity of α-amylase GEMSIZE 4A /-</text>
</g>
<g>
<path class="ds" d="M95.28,1528.77L96.73,1528.37L98.23,1527.95L99.73,1527.51L101.23,1527.08L102.73,1526.63L104.23,1526.18L105.73,1525.72L107.23,1525.26L108.73,1524.79L110.23,1524.31L111.73,1523.82L113.23,1523.33L114.73,1522.83L116.23,1522.32L117.28,1521.96M125.90,1518.84L127.38,1518.27L128.88,1517.69L130.38,1517.10L131.88,1516.50L133.38,1515.88L134.88,1515.26L136.38,1514.63L137.88,1513.99L139.38,1513.34L140.88,1512.67L142.38,1512.00L143.88,1511.31L145.38,1510.61L146.88,1509.90L147.90,1509.41M156.52,1505.03L157.98,1504.24L159.48,1503.42L160.98,1502.58L162.48,1501.73L163.98,1500.86L165.48,1499.98L166.98,1499.08L168.48,1498.16L169.98,1497.23L171.48,1496.27L172.98,1495.31L174.48,1494.32L175.98,1493.32L177.48,1492.29L178.52,1491.57M187.14,1485.23L188.63,1484.06L190.13,1482.87L191.63,1481.65L193.13,1480.41L194.63,1479.15L196.13,1477.86L197.63,1476.55L199.13,1475.21L200.63,1473.86L202.13,1472.47L203.63,1471.06L205.13,1469.63L206.63,1468.16L208.13,1466.68L209.13,1465.67M217.25,1457.05L218.73,1455.38L220.23,1453.67L221.73,1451.92L223.23,1450.15L224.73,1448.35L226.23,1446.52L227.73,1444.65L229.23,1442.76L230.73,1440.83L232.23,1438.88L233.73,1436.89L235.10,1435.05M241.25,1426.43L242.73,1424.28L244.23,1422.06L245.73,1419.81L247.23,1417.53L248.73,1415.21L250.23,1412.86L251.73,1410.48L253.23,1408.06L254.73,1405.61L255.45,1404.43M260.54,1395.81L262.03,1393.20L263.53,1390.56L265.03,1387.87L266.53,1385.16L268.03,1382.41L269.53,1379.63L271.03,1376.81L272.53,1373.97L272.62,1373.81M277.06,1365.19L278.53,1362.26L280.03,1359.26L281.53,1356.22L283.03,1353.15L284.53,1350.06L286.03,1346.94L287.53,1343.78L287.81,1343.19M291.84,1334.57L293.33,1331.34L294.83,1328.06L296.33,1324.75L297.83,1321.43L299.33,1318.08L300.83,1314.71L301.78,1312.57M305.56,1303.95L307.03,1300.57L308.53,1297.11L310.03,1293.64L311.53,1290.15L313.03,1286.65L314.53,1283.14L315.04,1281.95M318.71,1273.33L320.18,1269.88L321.68,1266.35L323.18,1262.82L324.68,1259.29L326.18,1255.77L327.68,1252.26L328.08,1251.33M331.78,1242.71L333.23,1239.35L334.73,1235.90L336.23,1232.47L337.73,1229.06L339.23,1225.68L340.73,1222.32L341.46,1220.71M345.40,1212.09L346.88,1208.92L348.38,1205.75L349.88,1202.62L351.38,1199.55L352.88,1196.53L354.38,1193.56L355.88,1190.65L356.18,1190.09M360.86,1181.47L362.33,1178.89L363.83,1176.35L365.33,1173.88L366.83,1171.50L368.33,1169.21L369.83,1167.00L371.33,1164.89L372.83,1162.87L374.33,1160.96L375.56,1159.47M383.82,1151.36L385.28,1150.30L386.78,1149.33L388.28,1148.50L389.78,1147.79L391.28,1147.22L392.78,1146.79L394.28,1146.49L395.78,1146.33L397.28,1146.32L398.78,1146.45L400.28,1146.72L401.78,1147.14L403.28,1147.71L404.78,1148.43L405.82,1149.01M414.25,1156.41L415.73,1158.20L417.23,1160.16L418.73,1162.26L420.23,1164.50L421.73,1166.89L423.23,1169.41L424.73,1172.07L426.23,1174.87L427.73,1177.79L428.04,1178.41M432.11,1187.03L433.58,1190.36L435.08,1193.86L436.58,1197.47L438.08,1196.65L439.58,1193.03L441.08,1189.49L441.42,1188.69M445.25,1180.07L446.73,1176.89L448.23,1173.78L449.73,1170.77L451.23,1167.88L452.73,1165.10L454.23,1162.44L455.73,1159.91L456.87,1158.07M463.13,1149.45L464.63,1147.78L466.13,1146.25L467.63,1144.89L469.13,1143.68L470.63,1142.64L472.13,1141.76L473.63,1141.06L475.13,1140.51L476.63,1140.14L478.13,1139.94L479.63,1139.90L481.13,1140.04L482.63,1140.34L484.13,1140.80L484.92,1141.11M493.54,1147.34L495.03,1148.92L496.53,1150.64L498.03,1152.49L499.53,1154.47L501.03,1156.57L502.53,1158.79L504.03,1161.11L505.53,1163.54L507.03,1166.07L508.53,1168.69L508.90,1169.34M513.53,1177.96L514.98,1180.80L516.48,1183.78L517.98,1186.81L519.48,1189.88L520.98,1192.99L522.48,1196.13L523.98,1199.29L524.30,1199.96M528.35,1208.58L529.83,1211.73L531.33,1214.92L532.83,1218.11L534.33,1221.28L535.83,1224.44L537.33,1227.58L538.78,1230.58M542.99,1239.20L544.48,1242.18L545.98,1245.14L547.48,1248.08L548.98,1250.97L550.48,1253.82L551.98,1256.63L553.48,1259.40L554.47,1261.20M559.36,1269.82L560.83,1272.33L562.33,1274.83L563.83,1277.30L565.33,1279.72L566.83,1282.10L568.33,1284.43L569.83,1286.72L571.33,1288.97L572.83,1291.18L573.27,1291.82M579.44,1300.44L580.93,1302.42L582.43,1304.39L583.93,1306.31L585.43,1308.20L586.93,1310.06L588.43,1311.89L589.93,1313.68L591.43,1315.44L592.93,1317.17L594.43,1318.87L595.93,1320.55L597.43,1322.19L597.66,1322.44M605.98,1331.06L607.43,1332.49L608.93,1333.94L610.43,1335.37L611.93,1336.78L613.43,1338.17L614.93,1339.54L616.43,1340.89L617.93,1342.22L619.43,1343.53L620.93,1344.83L622.43,1346.10L623.93,1347.36L625.43,1348.61L626.93,1349.84L627.98,1350.69M636.60,1357.41L638.08,1358.52L639.58,1359.63L641.08,1360.73L642.58,1361.82L644.08,1362.90L645.58,1363.96L647.08,1365.02L648.58,1366.07L650.08,1367.10L651.58,1368.13L653.08,1369.14L654.58,1370.15L656.08,1371.14L657.17,1371.86"/>
<path class="ds" d="M95.28,1546.86L96.73,1546.62L98.23,1546.36L99.73,1546.09L101.23,1545.82L102.73,1545.55L104.23,1545.27L105.73,1544.98L107.23,1544.69L108.73,1544.39L110.23,1544.09L111.73,1543.78L113.23,1543.46L114.73,1543.14L116.23,1542.81L117.28,1542.58M125.90,1540.55L127.38,1540.18L128.88,1539.80L130.38,1539.41L131.88,1539.02L133.38,1538.62L134.88,1538.21L136.38,1537.80L137.88,1537.38L139.38,1536.95L140.88,1536.52L142.38,1536.08L143.88,1535.63L145.38,1535.18L146.88,1534.72L147.90,1534.40M156.52,1531.60L157.98,1531.11L159.48,1530.59L160.98,1530.07L162.48,1529.54L163.98,1529.01L165.48,1528.46L166.98,1527.92L168.48,1527.36L169.98,1526.80L171.48,1526.24L172.98,1525.66L174.48,1525.09L175.98,1524.50L177.48,1523.91L178.52,1523.50M187.14,1519.97L188.63,1519.34L190.13,1518.70L191.63,1518.05L193.13,1517.40L194.63,1516.75L196.13,1516.09L197.63,1515.42L199.13,1514.75L200.63,1514.08L202.13,1513.39L203.63,1512.71L205.13,1512.02L206.63,1511.32L208.13,1510.62L209.14,1510.14M217.76,1505.99L219.23,1505.26L220.73,1504.52L222.23,1503.77L223.73,1503.01L225.23,1502.25L226.73,1501.49L228.23,1500.72L229.73,1499.94L231.23,1499.16L232.73,1498.37L234.23,1497.58L235.73,1496.78L237.23,1495.98L238.73,1495.17L239.76,1494.61M248.38,1489.82L249.88,1488.96L251.38,1488.10L252.88,1487.23L254.38,1486.35L255.88,1485.46L257.38,1484.57L258.88,1483.67L260.38,1482.76L261.88,1481.85L263.38,1480.92L264.88,1479.99L266.38,1479.05L267.88,1478.10L269.38,1477.14L270.38,1476.49M279.00,1470.74L280.48,1469.71L281.98,1468.66L283.48,1467.60L284.98,1466.52L286.48,1465.43L287.98,1464.33L289.48,1463.21L290.98,1462.08L292.48,1460.93L293.98,1459.77L295.48,1458.60L296.98,1457.40L298.48,1456.19L299.98,1454.96L301.00,1454.12M309.62,1446.61L311.08,1445.27L312.58,1443.87L314.08,1442.45L315.58,1441.01L317.08,1439.53L318.58,1438.04L320.08,1436.52L321.58,1434.97L323.08,1433.39L324.58,1431.78L326.08,1430.15L327.58,1428.48L329.08,1426.79L330.58,1425.06L330.63,1425.00M337.71,1416.38L339.18,1414.49L340.68,1412.53L342.18,1410.53L343.68,1408.48L345.18,1406.40L346.68,1404.28L348.18,1402.11L349.68,1399.90L351.18,1397.65L352.68,1395.35L353.31,1394.38M358.65,1385.76L360.13,1383.27L361.63,1380.69L363.13,1378.06L364.63,1375.39L366.13,1372.66L367.63,1369.89L369.13,1367.06L370.63,1364.18L370.85,1363.76M375.18,1355.14L376.63,1352.14L378.13,1349.00L379.63,1345.81L381.13,1342.57L382.63,1339.28L384.13,1335.93L385.36,1333.14M389.09,1324.52L390.58,1320.97L392.08,1317.37L393.58,1313.72L395.08,1310.02L396.58,1306.29L398.08,1302.52M401.44,1293.90L402.93,1290.03L404.43,1286.10L405.93,1282.13L407.43,1278.15L408.93,1274.13L409.76,1271.90M412.95,1263.28L414.43,1259.26L415.93,1255.17L417.43,1251.08L418.93,1246.99L420.43,1242.90L421.03,1241.28M424.20,1232.66L425.68,1228.68L427.18,1224.66L428.68,1220.67L430.18,1216.71L431.68,1212.80L432.51,1210.66M435.90,1202.04L437.38,1199.44L438.88,1203.19L440.38,1207.04L441.88,1210.97L443.38,1214.98L444.43,1217.83M447.54,1226.45L449.03,1230.68L450.53,1234.97L452.03,1239.31L453.53,1243.67L455.03,1248.06L455.16,1248.45M458.09,1257.07L459.58,1261.46L461.08,1265.88L462.58,1270.29L464.08,1274.68L465.58,1279.04L465.59,1279.07M468.59,1287.69L470.08,1291.92L471.58,1296.12L473.08,1300.26L474.58,1304.35L476.08,1308.36L476.59,1309.69M479.93,1318.31L481.38,1321.93L482.88,1325.58L484.38,1329.14L485.88,1332.61L487.38,1335.99L488.88,1339.26L489.37,1340.31M493.61,1348.93L495.08,1351.75L496.58,1354.51L498.08,1357.17L499.58,1359.74L501.08,1362.20L502.58,1364.57L504.08,1366.85L505.58,1369.04L506.93,1370.93M513.82,1379.55L515.28,1381.18L516.78,1382.78L518.28,1384.33L519.78,1385.82L521.28,1387.25L522.78,1388.63L524.28,1389.97L525.78,1391.27L527.28,1392.53L528.78,1393.75L530.28,1394.95L531.78,1396.12L533.28,1397.26L534.78,1398.39L535.50,1398.93M544.12,1405.15L545.58,1406.19L547.08,1407.26L548.58,1408.33L550.08,1409.41L551.58,1410.49L553.08,1411.58L554.58,1412.67L556.08,1413.77L557.58,1414.88L559.08,1416.00L560.58,1417.12L562.08,1418.26L563.58,1419.40L565.08,1420.56L566.12,1421.37M574.74,1428.21L576.23,1429.41L577.73,1430.64L579.23,1431.87L580.73,1433.10L582.23,1434.35L583.73,1435.59L585.23,1436.84L586.73,1438.10L588.23,1439.36L589.73,1440.62L591.23,1441.88L592.73,1443.15L594.23,1444.42L595.73,1445.68L596.74,1446.54M605.36,1453.82L606.83,1455.05L608.33,1456.30L609.83,1457.56L611.33,1458.81L612.83,1460.05L614.33,1461.29L615.83,1462.53L617.33,1463.76L618.83,1464.98L620.33,1466.20L621.83,1467.42L623.33,1468.62L624.83,1469.82L626.33,1471.02L627.36,1471.84M635.98,1478.52L637.48,1479.66L638.98,1480.78L640.48,1481.90L641.98,1483.01L643.48,1484.12L644.98,1485.21L646.48,1486.29L647.98,1487.37L649.48,1488.43L650.98,1489.49L652.48,1490.54L653.98,1491.58L655.48,1492.60L656.98,1493.62L657.17,1493.75"/>
<path class="bk" style="stroke-width:1.75" d="M95.28,1537.82L96.78,1537.48L98.28,1537.14L99.78,1536.79L101.27,1536.44L102.77,1536.08L104.27,1535.71L105.77,1535.34L107.27,1534.96L108.77,1534.58L110.26,1534.19L111.76,1533.79L113.26,1533.39L114.76,1532.97L116.26,1532.56L117.76,1532.13L119.25,1531.70L120.75,1531.26L122.25,1530.81L123.75,1530.36L125.25,1529.90L126.75,1529.43L128.25,1528.95L129.74,1528.46L131.24,1527.97L132.74,1527.47L134.24,1526.96L135.74,1526.44L137.24,1525.91L138.73,1525.38L140.23,1524.83L141.73,1524.28L143.23,1523.72L144.73,1523.15L146.23,1522.57L147.72,1521.98L149.22,1521.38L150.72,1520.77L152.22,1520.15L153.72,1519.52L155.22,1518.88L156.71,1518.23L158.21,1517.57L159.71,1516.90L161.21,1516.22L162.71,1515.53L164.21,1514.83L165.70,1514.11L167.20,1513.39L168.70,1512.65L170.20,1511.90L171.70,1511.15L173.20,1510.37L174.69,1509.59L176.19,1508.80L177.69,1507.99L179.19,1507.17L180.69,1506.33L182.19,1505.49L183.69,1504.63L185.18,1503.76L186.68,1502.87L188.18,1501.97L189.68,1501.06L191.18,1500.14L192.68,1499.20L194.17,1498.24L195.67,1497.27L197.17,1496.29L198.67,1495.29L200.17,1494.28L201.67,1493.25L203.16,1492.21L204.66,1491.15L206.16,1490.08L207.66,1488.99L209.16,1487.89L210.66,1486.77L212.15,1485.63L213.65,1484.48L215.15,1483.31L216.65,1482.12L218.15,1480.92L219.65,1479.70L221.14,1478.46L222.64,1477.21L224.14,1475.93L225.64,1474.64L227.14,1473.34L228.64,1472.01L230.13,1470.67L231.63,1469.31L233.13,1467.92L234.63,1466.53L236.13,1465.11L237.63,1463.67L239.12,1462.21L240.62,1460.74L242.12,1459.24L243.62,1457.73L245.12,1456.20L246.62,1454.64L248.12,1453.07L249.61,1451.47L251.11,1449.86L252.61,1448.23L254.11,1446.57L255.61,1444.90L257.11,1443.20L258.60,1441.48L260.10,1439.75L261.60,1437.99L263.10,1436.21L264.60,1434.41L266.10,1432.59L267.59,1430.75L269.09,1428.88L270.59,1427.00L272.09,1425.09L273.59,1423.17L275.09,1421.22L276.58,1419.25L278.08,1417.26L279.58,1415.25L281.08,1413.22L282.58,1411.16L284.08,1409.09L285.57,1406.99L287.07,1404.87L288.57,1402.74L290.07,1400.58L291.57,1398.40L293.07,1396.20L294.56,1393.98L296.06,1391.74L297.56,1389.48L299.06,1387.20L300.56,1384.90L302.06,1382.59L303.55,1380.25L305.05,1377.89L306.55,1375.52L308.05,1373.13L309.55,1370.72L311.05,1368.29L312.55,1365.85L314.04,1363.39L315.54,1360.91L317.04,1358.42L318.54,1355.91L320.04,1353.39L321.54,1350.85L323.03,1348.30L324.53,1345.74L326.03,1343.16L327.53,1340.58L329.03,1337.98L330.53,1335.37L332.02,1332.75L333.52,1330.13L335.02,1327.49L336.52,1324.85L338.02,1322.20L339.52,1319.55L341.01,1316.89L342.51,1314.23L344.01,1311.56L345.51,1308.90L347.01,1306.23L348.51,1303.56L350.00,1300.90L351.50,1298.23L353.00,1295.57L354.50,1292.92L356.00,1290.27L357.50,1287.63L358.99,1285.00L360.49,1282.38L361.99,1279.77L363.49,1277.17L364.99,1274.59L366.49,1272.03L367.98,1269.48L369.48,1266.95L370.98,1264.44L372.48,1261.95L373.98,1259.48L375.48,1257.04L376.98,1254.63L378.47,1252.25L379.97,1249.89L381.47,1247.57L382.97,1245.28L384.47,1243.02L385.97,1240.81L387.46,1238.63L388.96,1236.49L390.46,1234.39L391.96,1232.34L393.46,1230.33L394.96,1228.37L396.45,1226.46L397.95,1224.59L399.45,1222.79L400.95,1221.03L402.45,1219.33L403.95,1217.69L405.44,1216.11L406.94,1214.59L408.44,1213.13L409.94,1211.73L411.44,1210.40L412.94,1209.13L414.43,1207.94L415.93,1206.81L417.43,1205.75L418.93,1204.77L420.43,1203.86L421.93,1203.02L423.42,1202.26L424.92,1201.57L426.42,1200.96L427.92,1200.43L429.42,1199.97L430.92,1199.60L432.41,1199.30L433.91,1199.09L435.41,1198.96L436.91,1198.90L438.41,1198.93L439.91,1199.04L441.41,1199.22L442.90,1199.49L444.40,1199.84L445.90,1200.27L447.40,1200.78L448.90,1201.36L450.40,1202.03L451.89,1202.77L453.39,1203.59L454.89,1204.48L456.39,1205.45L457.89,1206.49L459.39,1207.60L460.88,1208.78L462.38,1210.03L463.88,1211.35L465.38,1212.73L466.88,1214.17L468.38,1215.68L469.87,1217.24L471.37,1218.86L472.87,1220.54L474.37,1222.27L475.87,1224.05L477.37,1225.88L478.86,1227.76L480.36,1229.68L481.86,1231.64L483.36,1233.64L484.86,1235.67L486.36,1237.74L487.85,1239.85L489.35,1241.98L490.85,1244.14L492.35,1246.32L493.85,1248.53L495.35,1250.76L496.85,1253.00L498.34,1255.26L499.84,1257.53L501.34,1259.82L502.84,1262.11L504.34,1264.42L505.84,1266.72L507.33,1269.03L508.83,1271.35L510.33,1273.66L511.83,1275.97L513.33,1278.28L514.83,1280.59L516.32,1282.88L517.82,1285.18L519.32,1287.46L520.82,1289.73L522.32,1292.00L523.82,1294.25L525.31,1296.49L526.81,1298.72L528.31,1300.93L529.81,1303.13L531.31,1305.31L532.81,1307.48L534.30,1309.63L535.80,1311.77L537.30,1313.88L538.80,1315.98L540.30,1318.07L541.80,1320.13L543.29,1322.18L544.79,1324.21L546.29,1326.23L547.79,1328.22L549.29,1330.20L550.79,1332.16L552.28,1334.10L553.78,1336.02L555.28,1337.92L556.78,1339.81L558.28,1341.68L559.78,1343.53L561.28,1345.36L562.77,1347.18L564.27,1348.97L565.77,1350.76L567.27,1352.52L568.77,1354.27L570.27,1356.00L571.76,1357.71L573.26,1359.41L574.76,1361.09L576.26,1362.76L577.76,1364.41L579.26,1366.04L580.75,1367.66L582.25,1369.26L583.75,1370.85L585.25,1372.42L586.75,1373.97L588.25,1375.52L589.74,1377.04L591.24,1378.56L592.74,1380.06L594.24,1381.54L595.74,1383.01L597.24,1384.47L598.73,1385.91L600.23,1387.34L601.73,1388.75L603.23,1390.16L604.73,1391.55L606.23,1392.92L607.72,1394.28L609.22,1395.63L610.72,1396.97L612.22,1398.30L613.72,1399.61L615.22,1400.91L616.71,1402.20L618.21,1403.47L619.71,1404.74L621.21,1405.99L622.71,1407.23L624.21,1408.46L625.71,1409.68L627.20,1410.88L628.70,1412.08L630.20,1413.26L631.70,1414.44L633.20,1415.60L634.70,1416.75L636.19,1417.89L637.69,1419.02L639.19,1420.14L640.69,1421.25L642.19,1422.35L643.69,1423.44L645.18,1424.52L646.68,1425.59L648.18,1426.65L649.68,1427.70L651.18,1428.74L652.68,1429.77L654.17,1430.79L655.67,1431.80L657.17,1432.81"/>
<path class="eb" d="M95.3,1530.9V1545.2M88.8,1530.9h13M88.8,1545.2h13M175.6,1482.4V1543.8M169.1,1482.4h13M169.1,1543.8h13M255.8,1360.3V1473.1M249.3,1360.3h13M249.3,1473.1h13M336.1,1261.7V1336.0M329.6,1261.7h13M329.6,1336.0h13M416.4,1191.2V1206.6M409.9,1191.2h13M409.9,1206.6h13M496.6,1179.3V1254.2M490.1,1179.3h13M490.1,1254.2h13M576.9,1163.2V1291.7M570.4,1163.2h13M570.4,1291.7h13M657.2,1402.7V1494.9M650.7,1402.7h13M650.7,1494.9h13"/>
<circle class="pt" cx="95.3" cy="1538.1" r="5.85"/>
<circle class="pt" cx="175.6" cy="1513.1" r="5.85"/>
<circle class="pt" cx="255.8" cy="1416.7" r="5.85"/>
<circle class="pt" cx="336.1" cy="1298.9" r="5.85"/>
<circle class="pt" cx="416.4" cy="1198.9" r="5.85"/>
<circle class="pt" cx="496.6" cy="1216.8" r="5.85"/>
<circle class="pt" cx="576.9" cy="1227.5" r="5.85"/>
<circle class="pt" cx="657.2" cy="1448.8" r="5.85"/>
<rect class="ax" x="71.2" y="1123.5" width="602.2" height="432.9"/>
<path class="ax" d="M151.5,1556.4v6.5M312.0,1556.4v6.5M472.5,1556.4v6.5M633.1,1556.4v6.5M71.2,1555.9h-6.5M71.2,1484.5h-6.5M71.2,1413.1h-6.5M71.2,1341.7h-6.5M71.2,1270.3h-6.5M71.2,1198.9h-6.5M71.2,1127.5h-6.5"/>
<text class="tk" style="letter-spacing:0.5px" x="151.7" y="1586.0" text-anchor="middle">300</text>
<text class="tk" style="letter-spacing:0.5px" x="312.3" y="1586.0" text-anchor="middle">320</text>
<text class="tk" style="letter-spacing:0.5px" x="472.8" y="1586.0" text-anchor="middle">340</text>
<text class="tk" style="letter-spacing:0.5px" x="633.3" y="1586.0" text-anchor="middle">360</text>
<text class="tk" x="56.1" y="1561.6" text-anchor="end">0.0</text>
<text class="tk" x="56.1" y="1490.2" text-anchor="end">0.2</text>
<text class="tk" x="56.1" y="1418.8" text-anchor="end">0.4</text>
<text class="tk" x="56.1" y="1347.4" text-anchor="end">0.6</text>
<text class="tk" x="56.1" y="1276.0" text-anchor="end">0.8</text>
<text class="tk" x="56.1" y="1204.6" text-anchor="end">1.0</text>
<text class="tk" x="56.1" y="1133.2" text-anchor="end">1.2</text>
<text class="lb" x="372.8" y="1623.9" text-anchor="middle">temperature /K</text>
<text class="lt" x="81.2" y="1147.7">c</text>
<text class="lb" style="letter-spacing:0.93px" transform="translate(13.3,1339.8) rotate(-90)" text-anchor="middle" xml:space="preserve">activity of <tspan font-style="italic">a</tspan>-amylase <tspan font-style="italic">Bacillus</tspan> sp. Megazyme /-</text>
</g>
</svg>
</body></html>
